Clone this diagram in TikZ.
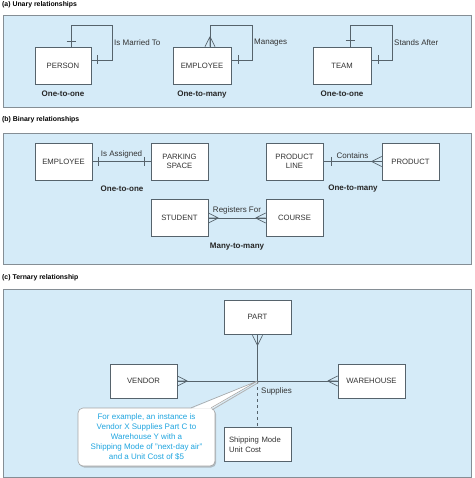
\documentclass[tikz,border=0pt]{standalone}
\usepackage{fontspec}
\setmainfont{Liberation Sans}
\usetikzlibrary{positioning,calc,shadows}
\definecolor{panelfill}{HTML}{D5EBF8}
\definecolor{panelrule}{HTML}{858E95}
\definecolor{linegray}{HTML}{56636C}
\definecolor{notetext}{HTML}{1FA5E0}
\definecolor{boxtext}{HTML}{333333}

\begin{document}
\begin{tikzpicture}[x=1pt,y=-1pt,node distance=5pt]
    \tikzset{panel/.style={draw=panelrule,fill=panelfill,line width=.8pt},
      ptitle/.style={anchor=west,inner sep=0pt,font=\bfseries\fontsize{6.9}{8}\selectfont},
      entity/.style={draw=linegray,fill=white,line width=.7pt,minimum width=57pt,minimum height=37pt,
        align=center,text=boxtext,font=\fontsize{7.7}{9.5}\selectfont},
      rel/.style={draw=linegray,line width=.7pt},
      relname/.style={inner sep=1pt,text=boxtext,font=\fontsize{8}{10}\selectfont},
      card/.style={inner sep=1pt,text=black!85,font=\bfseries\fontsize{8}{10}\selectfont},
      note/.style={draw=gray!70,fill=white,line width=.6pt,rounded corners=5pt,minimum width=137pt,
        minimum height=58pt,align=center,text=notetext,font=\fontsize{8}{10}\selectfont,
        drop shadow={shadow xshift=1.2pt,shadow yshift=-1.5pt,opacity=.45}},
      crow/.pic={\draw[rel] (0,0) -- (10,5) (0,0) -- (10,0) (0,0) -- (10,-5);},
      bar/.pic={\draw[rel] (0,-4.5) -- (0,4.5);}}
    \useasboundingbox (0,0) rectangle (474,478);

    % (a) unary
    \draw[panel] (3,15) rectangle (471,107);
    \node[ptitle] (ta) at (2,5) {(a) Unary relationships};
    \node[entity,minimum width=56pt] (person) at (63,65.5) {PERSON};
    \node[entity,minimum width=58pt] (emp1) at (202,65.5) {EMPLOYEE};
    \node[entity,minimum width=58pt] (team) at (342,65.5) {TEAM};

    \draw[rel] ($(person.north)+(8,0)$) |- ++(41,-21) |- ($(person.east)+(0,-5.5)$);
    \pic[rotate=90] at ($(person.north)+(8,-5)$) {bar};
    \pic at ($(person.east)+(6,-5.5)$) {bar};
    \draw[rel] ($(emp1.north)+(8,0)$) |- ++(42,-21) |- ($(emp1.east)+(0,-5.5)$);
    \pic[rotate=-90] at ($(emp1.north)+(8,-10)$) {crow};
    \pic at ($(emp1.east)+(7,-5.5)$) {bar};
    \draw[rel] ($(team.north)+(8,0)$) |- ++(42,-21) |- ($(team.east)+(0,-5.5)$);
    \pic[rotate=90] at ($(team.north)+(8,-6)$) {bar};
    \pic at ($(team.east)+(7,-5.5)$) {bar};

    \node[relname,anchor=west] (married) at (113,43) {Is Married To};
    \node[relname,anchor=west] (manages) at (253,43) {Manages};
    \node[relname,anchor=west] (after) at (393,43) {Stands After};
    \node[card,below=of person] (c1) {One-to-one};
    \node[card,below=of emp1] (c2) {One-to-many};
    \node[card,below=of team] (c3) {One-to-one};

    % (b) binary
    \draw[panel] (3,133) rectangle (471,264);
    \node[ptitle] (tb) at (2,120) {(b) Binary relationships};
    \node[entity] (emp2) at (63.5,161.5) {EMPLOYEE};
    \node[entity] (park) at (179.5,161.5) {PARKING\\SPACE};
    \node[entity] (pline) at (294.5,161.5) {PRODUCT\\LINE};
    \node[entity] (prod) at (410.5,161.5) {PRODUCT};
    \node[entity] (student) at (179.5,218) {STUDENT};
    \node[entity] (course) at (294.5,218) {COURSE};

    \draw[rel] (emp2) -- (park) node[relname,midway,above=2pt] {Is Assigned};
    \pic at ($(emp2.east)+(6,0)$) {bar};
    \pic at ($(park.west)+(-6,0)$) {bar};
    \draw[rel] (pline) -- (prod) node[relname,midway,above=2pt] {Contains};
    \pic at ($(pline.east)+(8,0)$) {bar};
    \pic at ($(prod.west)+(-10,0)$) {crow};
    \draw[rel] (student) -- (course) node[relname,midway,above=2pt] {Registers For};
    \pic[rotate=180] at ($(student.east)+(10,0)$) {crow};
    \pic at ($(course.west)+(-10,0)$) {crow};

    \node[card] (c4) at (122,189) {One-to-one};
    \node[card] (c5) at (353,189) {One-to-many};
    \node[card] (c6) at (237,247) {Many-to-many};

    % (c) ternary
    \draw[panel] (3,289) rectangle (471,477);
    \node[ptitle] (tc) at (2,278) {(c) Ternary relationship};
    \node[entity,minimum width=67pt,minimum height=34pt] (part) at (257.5,317) {PART};
    \node[entity,minimum width=67pt,minimum height=34pt] (vendor) at (143.5,381) {VENDOR};
    \node[entity,minimum width=67pt,minimum height=34pt] (wh) at (371.5,381) {WAREHOUSE};
    \node[entity,minimum width=67pt,minimum height=34pt,text width=57pt,align=left] (ship) at (257.5,444.5) {Shipping Mode\\Unit Cost};
    \coordinate (supplies) at (257.5,381);

    \draw[rel] (part) -- (supplies);
    \draw[rel] (vendor) -- (wh);
    \draw[rel,dashed] (supplies) -- (ship);
    \pic[rotate=90] at ($(part.south)+(0,11)$) {crow};
    \pic[rotate=180] at ($(vendor.east)+(10,0)$) {crow};
    \pic at ($(wh.west)+(-10,0)$) {crow};
    \node[relname,anchor=west] (lsupplies) at (260,391) {Supplies};

    \node[note] (ex) at (146.5,437) {For example, an instance is\\Vendor X Supplies Part C to\\Warehouse Y with a\\Shipping Mode of "next-day air"\\and a Unit Cost of \$5};
    \fill[white] ($(ex.north east)+(-24,1)$) -- (supplies) -- ($(ex.north east)+(-4,1)$) -- cycle;
    \draw[gray!70,line width=.6pt] ($(ex.north east)+(-24,0)$) -- (supplies) -- ($(ex.north east)+(-4,0)$);
    \draw[gray!60,line width=.8pt] ($(ex.north east)+(-3,2)$) -- ($(supplies)+(1,1.5)$);
\end{tikzpicture}
\end{document}
